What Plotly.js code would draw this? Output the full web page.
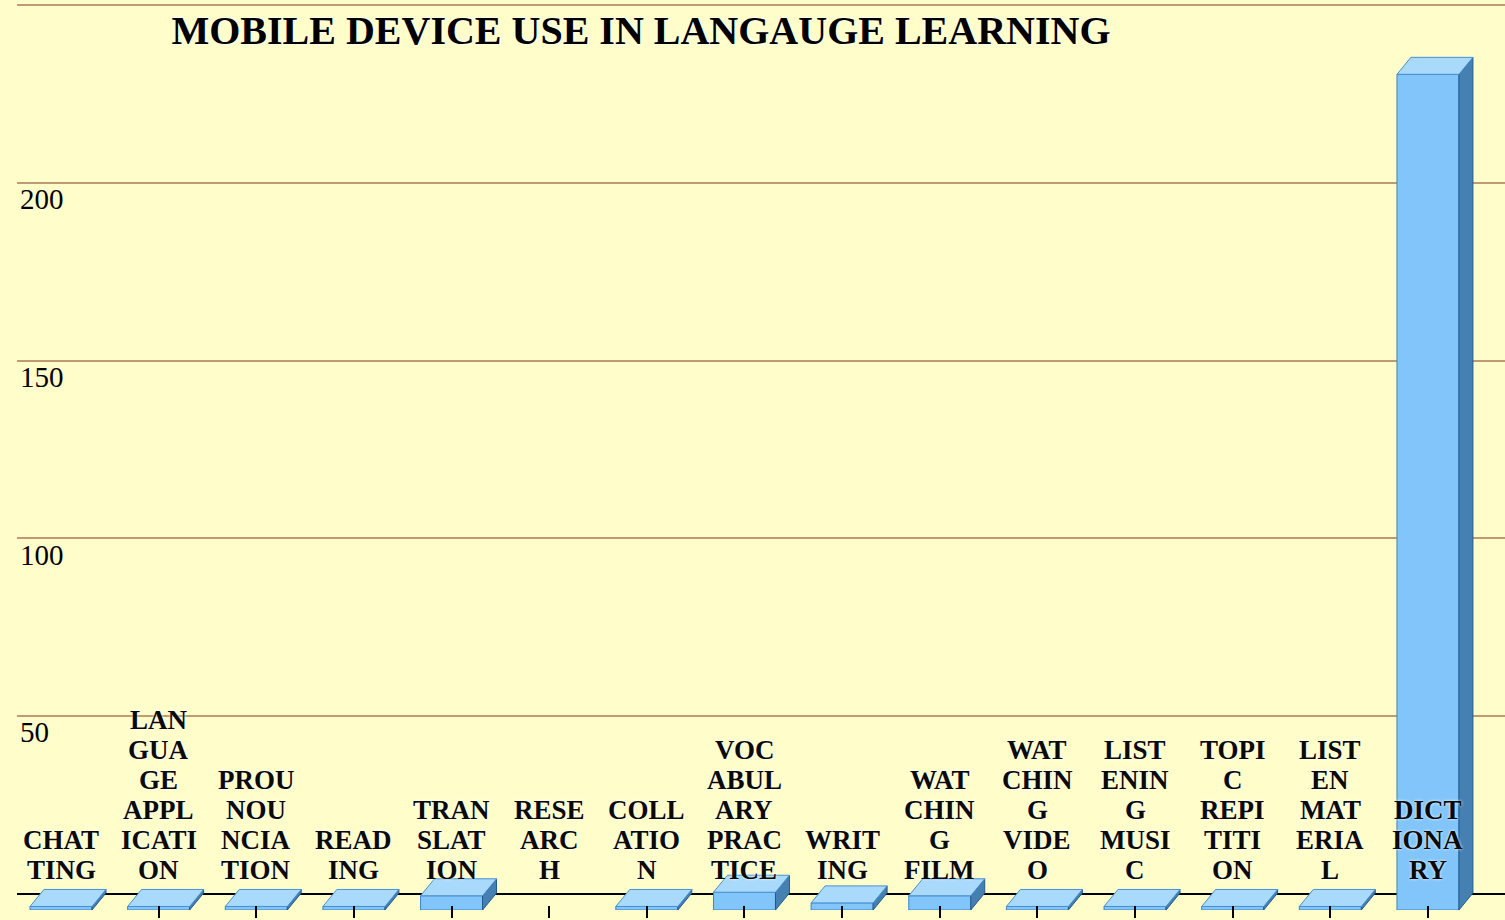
<!DOCTYPE html>
<html>
<head>
<meta charset="utf-8">
<script src="https://cdn.plot.ly/plotly-3.0.1.min.js"></script>
<style>html,body{margin:0;padding:0;background:#FFFECB;}#chart{width:1505px;height:920px;}</style>
</head>
<body>
<div id="chart"></div>
<script>
// ---- data ----
const chartTitle = "MOBILE DEVICE USE IN LANGAUGE LEARNING";
const categories = ["CHATTING", "LANGUAGE APPLICATION", "PROUNOUNCIATION", "READING", "TRANSLATION",
  "RESEARCH", "COLLATION", "VOCABULARY PRACTICE", "WRITING", "WATCHING FILM", "WATCHING VIDEO",
  "LISTENING MUSIC", "TOPIC REPITITION", "LISTEN MATERIAL", "DICTIONARY"];
const values = [1, 1, 1, 1, 4, 0, 1, 5, 2, 4, 1, 1, 1, 1, 235];
const labelLines = [
  ["CHAT", "TING"],
  ["LAN", "GUA", "GE", "APPL", "ICATI", "ON"],
  ["PROU", "NOU", "NCIA", "TION"],
  ["READ", "ING"],
  ["TRAN", "SLAT", "ION"],
  ["RESE", "ARC", "H"],
  ["COLL", "ATIO", "N"],
  ["VOC", "ABUL", "ARY", "PRAC", "TICE"],
  ["WRIT", "ING"],
  ["WAT", "CHIN", "G", "FILM"],
  ["WAT", "CHIN", "G", "VIDE", "O"],
  ["LIST", "ENIN", "G", "MUSI", "C"],
  ["TOPI", "C", "REPI", "TITI", "ON"],
  ["LIST", "EN", "MAT", "ERIA", "L"],
  ["DICT", "IONA", "RY"]
];
const yTickVals = [50, 100, 150, 200];
const gridVals = [50, 100, 150, 200, 250];

// ---- styling / geometry constants ----
const W = 1505, H = 920;
const mL = 17, mB = 10;
const pxPerUnitY = 3.556;
const pxPerCat = 97.64;
const barW = 0.635;
const depthX = 0.143;            // 3D depth offset in category units
const depthY = 17 / pxPerUnitY;  // 3D depth offset in value units
const serif = "Liberation Serif, Times New Roman, serif";

const idx = categories.map((c, i) => i);

// 3D faces derived from values
const sideX = [], sideY = [], topX = [], topY = [];
values.forEach((v, i) => {
  if (!(v > 0)) return;
  const L = i - barW / 2, R = i + barW / 2;
  sideX.push(R, R + depthX, R + depthX, R, R, null);
  sideY.push(0, depthY, v + depthY, v, 0, null);
  topX.push(L, L + depthX, R + depthX, R, L, null);
  topY.push(v, v + depthY, v + depthY, v, v, null);
});

const traces = [
  { // back wall axis holder (no data)
    type: "scatter", mode: "markers", x: [], y: [], yaxis: "y2", hoverinfo: "skip"
  },
  {
    type: "bar", x: idx, y: values, width: barW,
    hovertext: categories, hoverinfo: "text+y",
    marker: { color: "#82C5FA",
              line: { color: "#3C84C6", width: values.map(v => (v > 0 ? 1 : 0)) } }
  },
  {
    type: "scatter", mode: "lines", x: sideX, y: sideY, fill: "toself",
    fillcolor: "#4680B3", line: { color: "#1F5A92", width: 1 }, hoverinfo: "skip"
  },
  {
    type: "scatter", mode: "lines", x: topX, y: topY, fill: "toself",
    fillcolor: "#A9D9FB", line: { color: "#4A90CF", width: 1 }, hoverinfo: "skip"
  }
];

const plotW = W - mL;
const plotH = H - mB;
const xStart = -(61 - mL) / pxPerCat;
const xEnd = xStart + plotW / pxPerCat;

const annotations = [];
labelLines.forEach((lines, i) => {
  const n = lines.length;
  lines.forEach((t, k) => {
    const j = n - 1 - k;
    annotations.push({
      x: i, y: 0, xref: "x", yref: "y", text: t, showarrow: false,
      xanchor: "center", yanchor: "middle", yshift: 40 + 30 * j,
      font: { family: serif, size: 27, weight: "bold", color: "#0a0a0a",
              shadow: "0px 0px 3px #ffffff" }
    });
  });
});

const layout = {
  width: W, height: H,
  margin: { l: mL, r: 0, t: 0, b: mB, pad: 0 },
  paper_bgcolor: "#FFFECB", plot_bgcolor: "#FFFECB",
  showlegend: false,
  barmode: "overlay",
  title: {
    text: chartTitle, xref: "container", yref: "container",
    x: 641 / W, xanchor: "center", y: 1 - 30 / H, yanchor: "middle",
    font: { family: serif, size: 40, weight: "bold", color: "#000",
            shadow: "0px 0px 3px #ffffff" }
  },
  xaxis: {
    range: [xStart, xEnd], showgrid: false, zeroline: false, showline: false,
    tickvals: idx, ticktext: idx.map(() => ""), ticks: "outside", ticklen: 12,
    tickwidth: 2, tickcolor: "#000", anchor: "free", position: 5 / plotH, fixedrange: true
  },
  yaxis: {
    range: [0, plotH / pxPerUnitY], showgrid: false, zeroline: false, showline: false,
    tickvals: yTickVals, ticks: "", ticklabelposition: "inside",
    tickfont: { family: serif, size: 29, color: "#000" },
    fixedrange: true
  },
  yaxis2: {
    overlaying: "y", anchor: "x", side: "left",
    range: [-16 / pxPerUnitY, (plotH - 16) / pxPerUnitY],
    showgrid: true, gridcolor: "#C09A72", gridwidth: 2,
    tickvals: gridVals, showticklabels: false, ticks: "",
    zeroline: true, zerolinecolor: "#000", zerolinewidth: 2, showline: false, fixedrange: true
  },
  annotations: annotations
};

Plotly.newPlot("chart", traces, layout, { displayModeBar: false, staticPlot: true });
</script>
</body>
</html>
